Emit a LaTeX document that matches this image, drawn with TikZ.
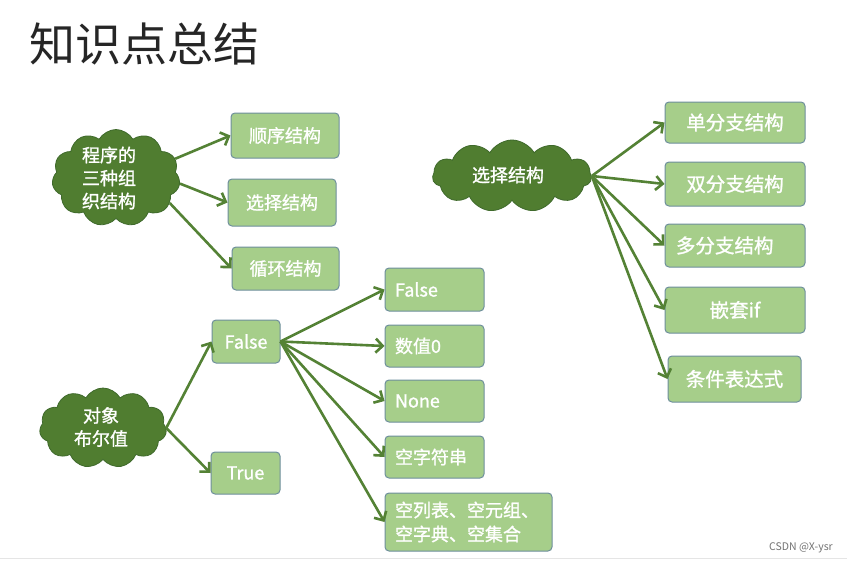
\documentclass[tikz,border=0pt]{standalone}
\usepackage{fontspec}
\setmainfont{Noto Sans CJK SC}
\newfontfamily\semibold{Noto Sans CJK SC}[FakeBold=1.2]
\usetikzlibrary{shapes.symbols,arrows.meta}
\definecolor{cloudf}{HTML}{507D30}
\definecolor{cloudd}{HTML}{3F6A2C}
\definecolor{arrowc}{HTML}{548235}
\definecolor{boxf}{HTML}{A6CE8A}
\definecolor{boxd}{HTML}{6E8F9C}
\begin{document}
\begin{tikzpicture}[x=1pt,y=-1pt,
  box/.style={draw=boxd, fill=boxf, line width=1pt, rounded corners=4pt, text=white,
    font=\semibold\fontsize{18}{24}\selectfont, inner sep=0pt},
  lbox/.style={box, align=left},
  rbox/.style={box, font=\semibold\fontsize{19.5}{24}\selectfont},
  cloudbox/.style={cloud, cloud puffs=11, cloud puff arc=120, cloud ignores aspect,
    draw=cloudd, fill=cloudf, line width=0.8pt, inner sep=0pt},
  cloudtext/.style={text=white, font=\semibold\fontsize{18}{23}\selectfont, align=center, inner sep=0pt},
  arr/.style={draw=arrowc, line width=2.6pt, -{Straight Barb[length=7pt,width=14pt]}},
]
\useasboundingbox (0,0) rectangle (847,562);
\fill[white] (0,0) rectangle (847,562);

% title
\node[font=\fontsize{46}{50}\selectfont, text=black!85, inner sep=0pt] (title) at (145,44) {知识点总结};

% clouds
\node[cloudbox, minimum width=128pt, minimum height=97pt] (pc) at (116,178) {};
\node[cloudtext] (pct) at (109,178) {程序的\\三种组\\织结构};
\node[cloudbox, minimum width=127pt, minimum height=80pt] (bc) at (103,428) {};
\node[cloudtext] (bct) at (101,427) {对象\\布尔值};
\node[cloudbox, minimum width=159pt, minimum height=72pt] (sc) at (512,176) {};
\node[cloudtext] (sct) at (508,175) {选择结构};

% left boxes
\node[box, minimum width=108pt, minimum height=45pt] (n1) at (285,135.5) {顺序结构};
\node[box, minimum width=108pt, minimum height=47pt] (n2) at (282,202.5) {选择结构};
\node[box, minimum width=107pt, minimum height=43pt] (n3) at (285.5,268.5) {循环结构};

\node[box, minimum width=68pt, minimum height=43pt] (f0) at (246,341.5) {False};
\node[box, minimum width=69pt, minimum height=42pt] (t0) at (245.5,473) {True};

\node[lbox, minimum width=99pt, minimum height=43pt, text width=79pt] (r1) at (434.5,289.5) {False};
\node[lbox, minimum width=99pt, minimum height=42pt, text width=79pt] (r2) at (434.5,346) {数值0};
\node[lbox, minimum width=99pt, minimum height=42pt, text width=79pt] (r3) at (434.5,401) {None};
\node[lbox, minimum width=99pt, minimum height=42pt, text width=79pt] (r4) at (434.5,457) {空字符串};
\node[lbox, minimum width=167pt, minimum height=58pt, text width=147pt] (r5) at (468.5,522) {空列表、空元组、\\空字典、空集合};

% right boxes
\node[rbox, minimum width=140pt, minimum height=41pt] (s1) at (735,122.5) {单分支结构};
\node[rbox, minimum width=140pt, minimum height=44pt] (s2) at (735,184) {双分支结构};
\node[rbox, align=left, minimum width=140pt, minimum height=43pt, text width=118pt] (s3) at (735,245.5) {多分支结构};
\node[rbox, minimum width=140pt, minimum height=46pt] (s4) at (735,310) {嵌套if};
\node[rbox, minimum width=133pt, minimum height=46pt] (s5) at (734.5,379) {条件表达式};

% arrows
\draw[arr] (pc.18) -- (n1.west);
\draw[arr] (pc.-5) -- (n2.west);
\draw[arr] (pc.-25) -- (n3.west);

\draw[arr] (bc.east) -- (f0.west);
\draw[arr] (bc.east) -- (t0.west);

\foreach \t in {r1,r2,r3,r4,r5} \draw[arr] (f0.east) -- (\t.west);
\foreach \t in {s1,s2,s3,s4,s5} \draw[arr] (sc.east) -- (\t.west);

% watermark and frame line
\node[font=\fontsize{10.5}{12}\selectfont, text=black!55, inner sep=0pt] (wm) at (801,548) {CSDN @X-ysr};
\draw[black!10, line width=0.6pt] (0,558) -- (847,558);
\end{tikzpicture}
\end{document}
